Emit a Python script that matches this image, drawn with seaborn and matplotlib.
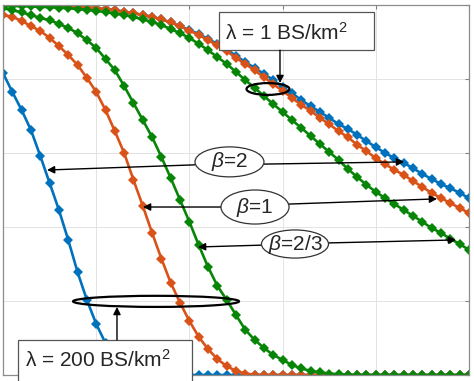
import matplotlib
matplotlib.use("Agg")
import matplotlib.pyplot as plt
from matplotlib.patches import Ellipse, Rectangle
import numpy as np
import seaborn as sns

# SINR threshold (dB), one marker per dB
threshold = list(range(-10, 41))

# lambda = 200 BS/km^2
cov_b2_l200 = [0.816, 0.765, 0.716, 0.662, 0.592, 0.519, 0.446, 0.365, 0.278, 0.203,
               0.138, 0.086, 0.051, 0.027, 0.011, 0.004, 0.001] + [0.0] * 34
cov_b1_l200 = [0.973, 0.968, 0.957, 0.943, 0.930, 0.911, 0.889, 0.865, 0.838, 0.803,
               0.765, 0.716, 0.659, 0.600, 0.527, 0.457, 0.384, 0.314, 0.249, 0.195,
               0.146, 0.103, 0.070, 0.043, 0.024, 0.011, 0.004, 0.001] + [0.0] * 23
cov_b23_l200 = [0.992, 0.986, 0.980, 0.973, 0.965, 0.959, 0.949, 0.938, 0.924, 0.905,
                0.884, 0.854, 0.824, 0.781, 0.735, 0.689, 0.643, 0.589, 0.532, 0.473,
                0.414, 0.351, 0.292, 0.241, 0.203, 0.162, 0.122, 0.095, 0.073, 0.054,
                0.041, 0.027, 0.018, 0.011, 0.007, 0.004, 0.002, 0.001] + [0.0] * 13

# lambda = 1 BS/km^2
cov_b2_l1 = [1.000, 1.000, 1.000, 0.999, 0.999, 0.998, 0.997, 0.996, 0.995, 0.993,
             0.991, 0.989, 0.986, 0.982, 0.978, 0.973, 0.968, 0.961, 0.953, 0.943,
             0.932, 0.922, 0.908, 0.895, 0.881, 0.862, 0.846, 0.830, 0.814, 0.797,
             0.778, 0.762, 0.743, 0.727, 0.711, 0.695, 0.678, 0.665, 0.649, 0.632,
             0.616, 0.600, 0.586, 0.573, 0.559, 0.543, 0.530, 0.516, 0.505, 0.492, 0.478]
cov_b1_l1 = [1.000, 1.000, 1.000, 0.999, 0.999, 0.998, 0.997, 0.996, 0.995, 0.993,
             0.991, 0.989, 0.986, 0.982, 0.978, 0.973, 0.968, 0.961, 0.953, 0.942,
             0.931, 0.919, 0.905, 0.891, 0.876, 0.857, 0.841, 0.823, 0.805, 0.786,
             0.768, 0.749, 0.730, 0.714, 0.695, 0.678, 0.659, 0.643, 0.622, 0.605,
             0.586, 0.570, 0.554, 0.541, 0.524, 0.508, 0.492, 0.478, 0.465, 0.451, 0.438]
cov_b23_l1 = [0.997, 0.997, 0.997, 0.996, 0.995, 0.994, 0.993, 0.991, 0.989, 0.987,
              0.984, 0.981, 0.977, 0.973, 0.968, 0.961, 0.954, 0.946, 0.935, 0.924,
              0.911, 0.895, 0.878, 0.859, 0.841, 0.819, 0.797, 0.776, 0.754, 0.732,
              0.711, 0.689, 0.668, 0.646, 0.624, 0.603, 0.581, 0.557, 0.535, 0.514,
              0.495, 0.478, 0.462, 0.446, 0.430, 0.414, 0.397, 0.384, 0.368, 0.354, 0.338]

blue, orange, green = "#0072BD", "#D95319", "#078507"
series = [
    (cov_b2_l200, blue), (cov_b1_l200, orange), (cov_b23_l200, green),
    (cov_b2_l1, blue), (cov_b1_l1, orange), (cov_b23_l1, green),
]

sns.set_style("white")
plt.rcParams["font.family"] = ["Liberation Sans", "DejaVu Sans"]
plt.rcParams["mathtext.fontset"] = "custom"
plt.rcParams["mathtext.rm"] = "Liberation Sans"
plt.rcParams["mathtext.it"] = "Liberation Sans:italic"

fig = plt.figure(figsize=(4.74, 3.81), dpi=100)
ax = fig.add_axes([3 / 474, 6 / 381, 466 / 474, 370 / 381])

for vals, col in series:
    sns.lineplot(x=threshold, y=vals, color=col, lw=1.9, marker="D",
                 markersize=4.8, markeredgewidth=0, ax=ax, legend=False)

ax.set_xlim(-10, 40)
ax.set_ylim(0, 1)
ax.set_xticks([-10, 0, 10, 20, 30, 40])
ax.set_yticks([0, 0.2, 0.4, 0.6, 0.8, 1.0])
ax.set_xticklabels([])
ax.set_yticklabels([])
ax.grid(True, color="#e3e3e3", lw=0.7)
ax.tick_params(direction="in", length=3, color="#808080", top=True, right=True)
for s in ax.spines.values():
    s.set_color("#8c8c8c")
    s.set_linewidth(0.9)

arrow = dict(arrowstyle="-|>", color="k", lw=1.0, mutation_scale=11, shrinkA=0, shrinkB=0)

# lambda = 1 annotation
ax.add_patch(Rectangle((13.18, 0.878), 16.63, 0.103, facecolor="white",
                       edgecolor="#555555", lw=0.9, zorder=5))
ax.text(13.82, 0.905, "λ = 1 BS/km$^{2}$", fontsize=15, va="baseline", zorder=6)
ax.annotate("", xy=(19.72, 0.789), xytext=(19.72, 0.878), arrowprops=arrow, zorder=6)
ax.add_patch(Ellipse((18.43, 0.773), 4.61, 0.032, facecolor="none",
                     edgecolor="k", lw=1.6, zorder=6))

# lambda = 200 annotation
ax.add_patch(Rectangle((-8.39, -0.03), 18.67, 0.125, facecolor="white",
                       edgecolor="#555555", lw=0.9, zorder=5, clip_on=False))
ax.text(-7.64, 0.022, "λ = 200 BS/km$^{2}$", fontsize=15, va="baseline", zorder=6)
ax.annotate("", xy=(2.23, 0.184), xytext=(2.23, 0.0946), arrowprops=arrow, zorder=6)
ax.add_patch(Ellipse((6.42, 0.199), 17.81, 0.030, facecolor="none",
                     edgecolor="k", lw=1.6, zorder=6))

# beta labels
betas = [
    ("$\\beta$=2", (14.30, 0.576), 7.40, 0.081,
     [((10.60, 0.568), (-5.28, 0.554)), ((18.00, 0.570), (33.03, 0.576))]),
    ("$\\beta$=1", (17.04, 0.454), 7.30, 0.092,
     [((13.39, 0.454), (5.02, 0.454)), ((20.69, 0.462), (36.57, 0.476))]),
    ("$\\beta$=2/3", (21.33, 0.354), 7.19, 0.076,
     [((17.79, 0.351), (10.92, 0.346)), ((24.98, 0.357), (38.61, 0.365))]),
]
for label, c, w, h, arrows in betas:
    for start, end in arrows:
        ax.annotate("", xy=end, xytext=start, arrowprops=arrow, zorder=6)
    ax.add_patch(Ellipse(c, w, h, facecolor="white", edgecolor="#333333", lw=0.9, zorder=7))
    ax.text(c[0], c[1], label, fontsize=15, ha="center", va="center", zorder=8)

fig.savefig("out.png", dpi=100)
